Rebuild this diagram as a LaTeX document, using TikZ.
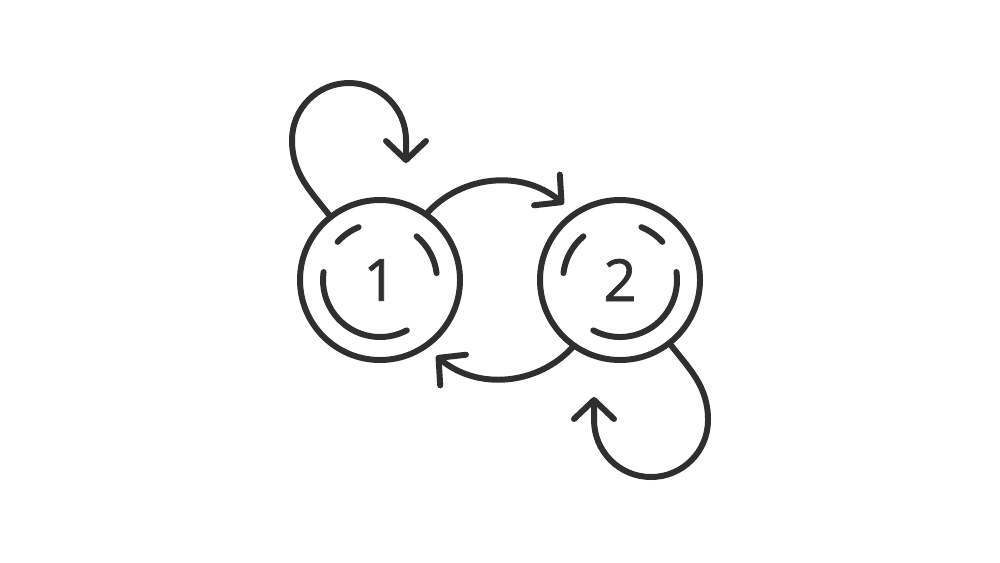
\documentclass[tikz,border=0pt]{standalone}
\usepackage{xcolor}
\usepackage{fontspec}
\newfontfamily\statefont{Open Sans}[FakeBold=1.2]
\usepackage{tikz}
\usetikzlibrary{positioning, arrows.meta}
\definecolor{ink}{HTML}{2F2F2F}

\begin{document}
\begin{tikzpicture}[
  state/.style={circle, draw=ink, line width=1.7pt, minimum size=1.6cm, inner sep=0pt, outer sep=0pt, font=\statefont\fontsize{16.5}{16.5}\selectfont, text=ink},
  ring/.style={draw=ink, line width=1.7pt, line cap=round},
  flow/.style={draw=ink, line width=1.7pt, line cap=round, -{Straight Barb[length=0.19cm, width=0.40cm, round]}}
]
   % Canvas (keeps the margins)
   \fill[white] (0,0) rectangle (10,-5.62);

   % States
   \node[state] (one) at (3.80,-2.80) {1};
   \node[state, right=0.8cm of one] (two) {2};

   % Inner rings
   \draw[ring] ([shift={(112:0.57)}]one.center) arc[start angle=112, end angle=138, radius=0.57];
   \draw[ring] ([shift={(172:0.57)}]one.center) arc[start angle=172, end angle=298, radius=0.57];
   \draw[ring] ([shift={(7:0.57)}]one.center) arc[start angle=7, end angle=50, radius=0.57];
   \draw[ring] ([shift={(42:0.57)}]two.center) arc[start angle=42, end angle=68, radius=0.57];
   \draw[ring] ([shift={(-118:0.57)}]two.center) arc[start angle=-118, end angle=8, radius=0.57];
   \draw[ring] ([shift={(130:0.57)}]two.center) arc[start angle=130, end angle=173, radius=0.57];

   % Transitions between the states
   \draw[flow] (one.55) arc[start angle=138.6, end angle=50, radius=0.99];
   \draw[flow] (two.235) arc[start angle=-41.4, end angle=-130, radius=0.99];

   % Self loops
   \draw[flow] (one.128) to[out=128, in=-90] (2.92,-1.40) arc[start angle=180, end angle=0, radius=0.57] -- ++(0,-0.23);
   \draw[flow] (two.-52) to[out=-52, in=90] (7.08,-4.20) arc[start angle=0, end angle=-180, radius=0.57] -- ++(0,0.23);
\end{tikzpicture}
\end{document}
